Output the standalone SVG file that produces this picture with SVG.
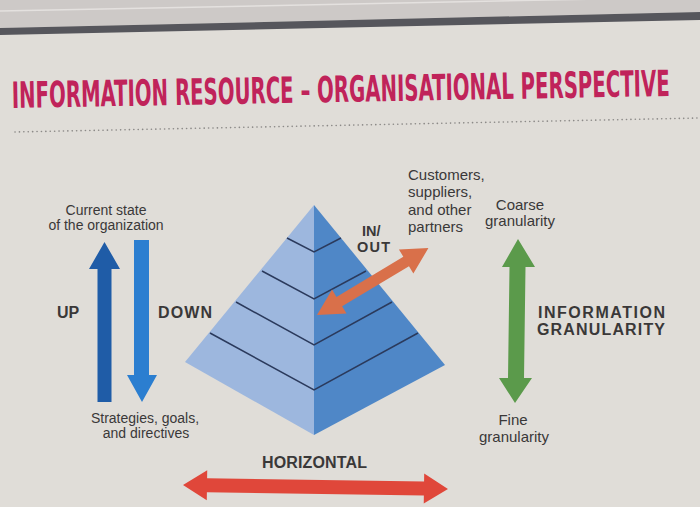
<svg xmlns="http://www.w3.org/2000/svg" width="700" height="507" viewBox="0 0 700 507">
<defs>
<style>
.t{font-family:"Liberation Sans",Arial,Helvetica,sans-serif;fill:#3a3838}
.s{font-size:14px}
.r{font-size:15px}
.b{font-size:16px;font-weight:bold}
.io{font-size:14.5px;font-weight:bold}
.lay{stroke:#2b3a5c;stroke-width:1.5;fill:none}
.title{font-family:"DejaVu Sans Condensed","Liberation Sans Narrow","Liberation Sans",sans-serif;font-weight:bold;font-size:27px;fill:#c0235a}
</style>
</defs>
<rect width="700" height="507" fill="#e0ddd8"/>
<g id="header">
<polygon points="0,0 700,0 700,12 0,28" fill="#cdc9c7"/>
<line x1="0" y1="11" x2="700" y2="-3" stroke="#e4e1df" stroke-width="1.5"/>
<polygon points="0,28 700,12 700,20 0,35" fill="#56565c"/>
<g transform="rotate(-1.05 12 108) translate(12 108) scale(1 1.34)">
<text class="title" x="0" y="0" textLength="658" lengthAdjust="spacingAndGlyphs">INFORMATION RESOURCE – ORGANISATIONAL PERSPECTIVE</text>
</g>
<line x1="15" y1="132" x2="700" y2="118" stroke="#8c8a88" stroke-width="1.6" stroke-linecap="round" stroke-dasharray="0.1 4.3"/>
</g>
<g id="pyramid">
<polygon points="314,205 185,362 314,435" fill="#9db7de"/>
<polygon points="314,205 445,365 314,435" fill="#4f87c7"/>
<polyline class="lay" points="287,238 314,252 341,238"/>
<polyline class="lay" points="262,271 314,299 366,271"/>
<polyline class="lay" points="236,302 314,345 392,302"/>
<polyline class="lay" points="210,333 314,390 418,333"/>
</g>
<g id="connectors">
<polygon id="up-arrow" points="104.5,242 120,269 111.5,269 111.5,402 97.5,402 97.5,269 89,269" fill="#1f5ca7"/>
<polygon id="down-arrow" points="134,240 149,240 149,375 157,375 142,402 127,375 134,375" fill="#2b7ed0"/>
<polygon id="granularity-arrow" points="518,239 535,267 525.5,267 524,378 532,378 515,403 499,378 508,378 509.5,267 502,267" fill="#5b9a4b"/>
<g id="inout-arrow" transform="translate(317,315) rotate(-31)"><polygon points="0,0 26,-14 26,-5.5 104,-5.5 104,-14 130,0 104,14 104,5.5 26,5.5 26,14" fill="#d9704a"/></g>
<g id="horizontal-arrow" transform="translate(183,485) rotate(0.86)"><polygon points="0,0 24,-15 24,-7 241,-7 241,-15 265,0 241,15 241,7 24,7 24,15" fill="#e0473a"/></g>
</g>
<g id="labels">
<text class="t s" x="106" y="215" text-anchor="middle">Current state</text>
<text class="t s" x="106" y="230" text-anchor="middle">of the organization</text>
<text class="t b" x="57" y="318">UP</text>
<text class="t b" x="158" y="318" textLength="54">DOWN</text>
<text class="t s" x="145" y="423" text-anchor="middle">Strategies, goals,</text>
<text class="t s" x="146" y="438" text-anchor="middle">and directives</text>
<text class="t io" x="362" y="235.5">IN/</text>
<text class="t io" x="357" y="252" textLength="33">OUT</text>
<text class="t r" x="408" y="180">Customers,</text>
<text class="t r" x="408" y="197">suppliers,</text>
<text class="t r" x="408" y="215">and other</text>
<text class="t r" x="408" y="232">partners</text>
<text class="t r" x="520" y="210" text-anchor="middle">Coarse</text>
<text class="t r" x="520" y="226" text-anchor="middle">granularity</text>
<text class="t b" x="538" y="318" textLength="127">INFORMATION</text>
<text class="t b" x="537" y="335" textLength="128">GRANULARITY</text>
<text class="t r" x="513" y="425" text-anchor="middle">Fine</text>
<text class="t r" x="514" y="442" text-anchor="middle">granularity</text>
<text class="t b" x="262" y="468" textLength="105">HORIZONTAL</text>
</g>
</svg>
